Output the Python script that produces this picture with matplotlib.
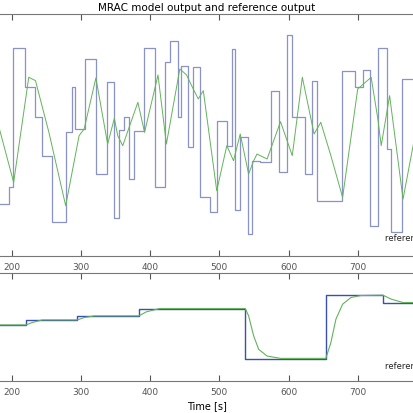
import numpy as np
import matplotlib
matplotlib.use("Agg")
import matplotlib.pyplot as plt

# values (3x zoom pixel coords), converted below
ref_top_x = [0, 30, 42, 78, 108, 128, 160, 200, 220, 228, 258, 290, 322, 345, 358, 375, 388, 405,
             432, 467, 497, 510, 535, 545, 565, 578, 600, 630, 650, 680, 695, 705, 718, 743, 756,
             778, 812, 835, 860, 875, 912, 935, 950, 1022, 1062, 1085, 1108, 1130, 1158, 1170, 1202, 1250]
ref_top_y = [615, 565, 148, 265, 355, 470, 670, 400, 265, 390, 180, 525, 248, 658, 393, 355, 540, 395,
             148, 565, 190, 125, 355, 200, 445, 203, 595, 640, 365, 440, 150, 633, 415, 705, 485,
             490, 275, 518, 107, 355, 525, 245, 605, 215, 265, 213, 680, 148, 450, 700, 240, 240]
mod_top_x = [0, 45, 90, 110, 150, 200, 240, 255, 290, 325, 345, 355, 370, 415, 435, 475, 500, 540, 560,
             580, 595, 610, 650, 680, 700, 720, 745, 760, 770, 800, 840, 875, 905, 940, 960, 990,
             1025, 1070, 1110, 1130, 1140, 1165, 1205, 1250]
mod_top_y = [380, 550, 235, 245, 400, 620, 410, 390, 237, 435, 358, 410, 440, 310, 400, 228, 435, 210, 228,
             270, 300, 275, 575, 440, 485, 405, 525, 485, 465, 480, 368, 470, 235, 405, 370, 470,
             595, 270, 235, 360, 440, 290, 600, 360]

ref_bot_x = [0, 82, 235, 418, 735, 975, 1145, 1250]
ref_bot_y = [167, 152, 140, 118, 268, 78, 100, 100]
mod_bot_x = [0, 82, 100, 130, 235, 255, 285, 418, 440, 480, 735, 745, 760, 775, 800, 840, 975, 990,
             1005, 1025, 1050, 1080, 1145, 1170, 1205, 1250]
mod_bot_y = [167, 167, 160, 152, 152, 145, 140, 140, 128, 118, 118, 140, 200, 240, 260, 267, 267, 220,
             150, 105, 85, 79, 78, 90, 100, 100]


def to_time(px):
    return 200 + (np.array(px) - 39) / 2.062


blue = "#8a93c8"
blue_dark = "#3a4fb0"
green = "#62b35a"
grey = "#555555"

fig = plt.figure(figsize=(4.14, 4.14), dpi=100)
ax1 = fig.add_axes([-0.01, 0.379, 1.02, 0.585])
ax2 = fig.add_axes([-0.01, 0.077, 1.02, 0.261])

ax1.step(to_time(ref_top_x), 771 - np.array(ref_top_y), where="post", color=blue, lw=0.9)
ax1.plot(to_time(mod_top_x), 771 - np.array(mod_top_y), color=green, lw=0.7)
ax1.set_ylim(0, 726)
ax1.text(739, 49, "reference output", fontsize=6, color="#222222")
ax1.set_title("MRAC model output and reference output", fontsize=7.5, pad=3)

ax2.step(to_time(ref_bot_x), 335 - np.array(ref_bot_y), where="post", color=blue_dark, lw=1.0)
ax2.plot(to_time(mod_bot_x), 335 - np.array(mod_bot_y), color=green, lw=0.8)
ax2.set_ylim(0, 323)
ax2.text(739, 40, "reference output", fontsize=6, color="#222222")
ax2.set_xlabel("Time [s]", fontsize=7, labelpad=3)

for ax in (ax1, ax2):
    ax.set_xlim(to_time(-8), to_time(1250))
    ax.set_xticks([200, 300, 400, 500, 600, 700])
    ax.set_yticks([])
    ax.tick_params(axis="x", direction="in", top=True, length=4, labelsize=6.5,
                   colors=grey, pad=4)
    for s in ax.spines.values():
        s.set_color("#777777")
        s.set_linewidth(0.8)

fig.savefig("out.png", dpi=100)
